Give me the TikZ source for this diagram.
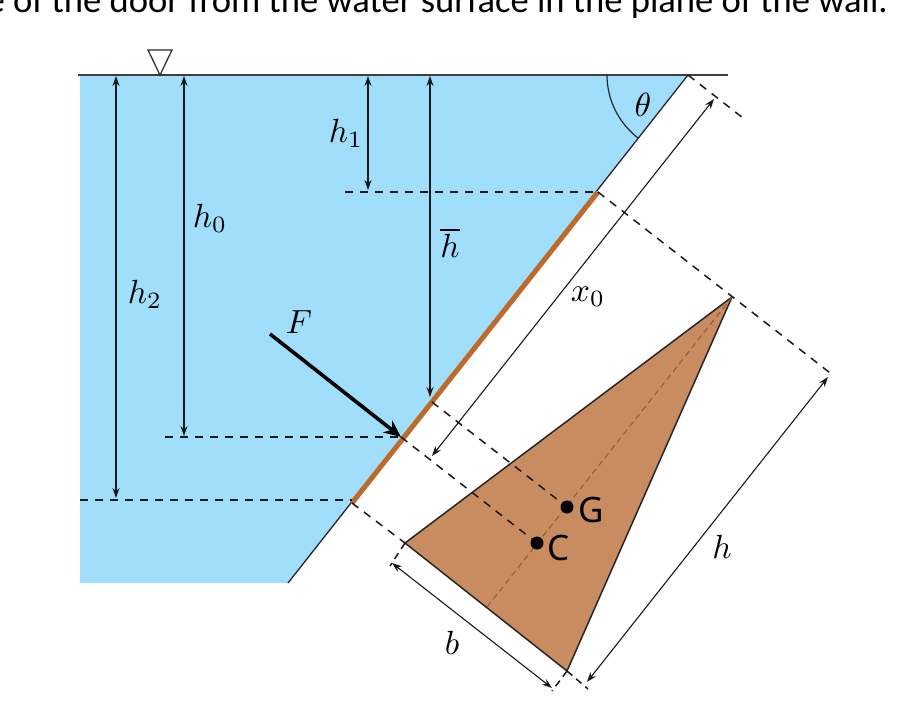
\documentclass[tikz,border=0pt]{standalone}
\usepackage{fontspec}
\setmainfont{Noto Sans}
\newfontfamily\capfont{Carlito}
\usetikzlibrary{arrows.meta}
\definecolor{water}{HTML}{A0DEFC}
\definecolor{doorfill}{HTML}{C98C60}
\definecolor{doorline}{HTML}{BD6A2A}
\definecolor{middash}{HTML}{9A5A35}
\tikzset{
  dim/.style={line width=1.1pt,draw=black!90,{Stealth[length=10pt,width=7pt]}-{Stealth[length=10pt,width=7pt]}},
  guide/.style={line width=1.5pt,draw=black!90,dash pattern=on 8pt off 7pt},
  lab/.style={scale=3.35,inner sep=0pt},
  pointlab/.style={font=\fontsize{35}{37}\selectfont,inner sep=0pt},
  dot/.style={circle,fill=black,inner sep=0pt,minimum size=13pt}
}
\begin{document}
\begin{tikzpicture}[x=1pt,y=-1pt]
\useasboundingbox (0,0) rectangle (914,726);
\clip (0,0) rectangle (914,726);
% key points
\coordinate (wl) at (78,75);
\coordinate (wr) at (728,75);
\coordinate (wt) at (688,75);
\coordinate (wb) at (288,583);
\coordinate (dt) at (598,192);
\coordinate (db) at (352,503);
\coordinate (hb) at (432,402);
\coordinate (cp) at (401,437);
\coordinate (A) at (732,297);
\coordinate (B) at (405,543);
\coordinate (D) at (567,671);
\coordinate (M) at (487,607);
% water
\fill[water] (80,75) -- (wt) -- (wb) -- (80,583) -- cycle;
\draw[line width=1.4pt,draw=black!75] (wl) -- (wr);
\draw[line width=1.3pt,draw=black!85] (wt) -- (wb);
\draw[line width=1.2pt,draw=black!85] (148,50) -- (172,50) -- (160,75) -- cycle;
% angle
\draw[line width=1.2pt,draw=black!85] (607,75) .. controls (607,99.8) and (618.5,122.7) .. (638,138);
% door in elevation
\draw[line width=5pt,draw=doorline] (dt) -- (db);
% door plan
\fill[doorfill] (A) -- (B) -- (D) -- cycle;
\draw[line width=1.5pt,draw=black!85,line join=round] (A) -- (B) -- (D) -- cycle;
\draw[line width=1.1pt,draw=middash,dash pattern=on 6pt off 4pt] (M) -- (A);
% points
\node[dot] (G) at (567,507) {};
\node[dot] (C) at (537,543) {};
\node[pointlab,anchor=west] (Gl) at (578,510) {G};
\node[pointlab,anchor=west] (Cl) at (547,548) {C};
% guides
\coordinate (ge1) at (743,118);
\coordinate (ge2) at (834,376);
\coordinate (sb) at (345,192);
\coordinate (s0) at (165,437);
\coordinate (s2) at (80,500);
\coordinate (s2e) at (352,500);
\coordinate (bl) at (390,566);
\coordinate (br) at (552,691);
\coordinate (hl) at (588,689);
\draw[guide] (wt) -- (ge1);
\draw[guide] (dt) -- (ge2);
\draw[guide] (hb) -- (G);
\draw[guide] (cp) -- (C);
\draw[guide] (db) -- (B);
\draw[guide] (sb) -- (dt);
\draw[guide] (s0) -- (cp);
\draw[guide] (s2) -- (s2e);
\draw[guide,dash pattern=on 7pt off 5pt] (B) -- (bl);
\draw[guide,dash pattern=on 7pt off 5pt] (D) -- (br);
\draw[guide,dash pattern=on 7pt off 5pt] (D) -- (hl);
% dimension lines
\coordinate (t1) at (116,76); \coordinate (e1) at (116,498);
\coordinate (t2) at (184,76); \coordinate (e2) at (184,436);
\coordinate (t3) at (368,76); \coordinate (e3) at (368,190);
\coordinate (t4) at (430,76); \coordinate (e4) at (430,397);
\coordinate (x1) at (714,99); \coordinate (x2) at (432,456);
\coordinate (h1) at (828,377); \coordinate (h2) at (587,682);
\coordinate (b1) at (392,563); \coordinate (b2) at (552,688);
\draw[dim] (t1) -- (e1);
\draw[dim] (t2) -- (e2);
\draw[dim] (t3) -- (e3);
\draw[dim] (t4) -- (e4);
\draw[dim] (x1) -- (x2);
\draw[dim] (h1) -- (h2);
\draw[dim] (b1) -- (b2);
% force
\coordinate (F0) at (270,334);
\draw[line width=3.6pt,-{Stealth[length=17pt,width=15pt]}] (F0) -- (cp);
% labels
\node[lab] (lh1) at (346,133) {$h_1$};
\node[lab] (lh0) at (210,218) {$h_0$};
\node[lab] (lhb) at (450,243) {$\overline{h}$};
\node[lab] (lh2) at (145,294) {$h_2$};
\node[lab] (lF) at (299,322) {$F$};
\node[lab] (lx0) at (588,297) {$x_0$};
\node[lab] (lh) at (722,547) {$h$};
\node[lab] (lb) at (452,643) {$b$};
\node[lab] (lt) at (643,105) {$\theta$};
% caption cut by the top edge
\node[anchor=base east,inner sep=0pt,font=\capfont\fontsize{36.6}{39}\selectfont] (cap) at (888,12) {e of the door from the water surface in the plane of the wall.};
\end{tikzpicture}
\end{document}
